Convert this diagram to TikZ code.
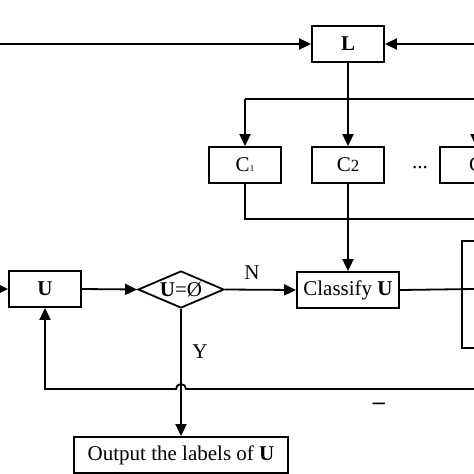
\documentclass[tikz,border=0pt]{standalone}
\usepackage{fontspec}
\setmainfont{Liberation Serif}
\usetikzlibrary{arrows.meta}
\usetikzlibrary{shapes.geometric}

\begin{document}
\begin{tikzpicture}[x=1pt,y=-1pt,line width=1.8pt,
    txt/.style={font=\fontsize{21}{24}\selectfont},
    box/.style={draw, txt, minimum width=72pt, minimum height=36pt, inner sep=0pt},
    test/.style={draw, txt, diamond, aspect=2.3, minimum width=86pt, minimum height=37pt, inner sep=0pt},
    arr/.style={-{Triangle[length=12pt,width=11pt]}}]
            % Page frame
            \clip (0,0) rectangle (474,474);

            % Define the rows and columns
            \def\rowL{44}    % row of L
            \def\rowC{165}   % row of the classifiers
            \def\rowU{289}   % row of U
            \def\rowF{389}   % feedback line
            \def\colU{45}
            \def\colT{181}
            \def\colC{348}

            % Boxes
            \node[box] (L) at (\colC,\rowL) {\textbf{L}};
            \node[box] (C1) at (245,\rowC) {C{\fontsize{9}{10}\selectfont 1}};
            \node[box] (C2) at (\colC,\rowC) {C{\fontsize{17}{18}\selectfont 2}};
            \node[box] (C3) at (476,\rowC) {C};
            \node[txt] (dots) at (420,168) {...};

            \node[box] (U) at (\colU,\rowU) {\textbf{U}};
            \node[test] (T) at (\colT,289.5) {\textbf{U}=Ø};
            \node[box, minimum width=102pt] (K) at (\colC,290) {Classify \textbf{U}};
            \node[box, minimum width=60pt, minimum height=107pt] (R) at (492,294.5) {};
            \node[box, minimum width=214pt] (O) at (\colT,455) {Output the labels of \textbf{U}};

            % Free ends
            \coordinate (inL) at (0,\rowL);
            \coordinate (inR) at (474,\rowL);
            \coordinate (inU) at (0,\rowU);
            \coordinate (topL) at (245,99);
            \coordinate (topM) at (\colC,99);
            \coordinate (topR) at (476,99);
            \coordinate (topE) at (474,99);
            \coordinate (botL) at (245,219);
            \coordinate (botM) at (\colC,219);
            \coordinate (botE) at (474,219);
            \coordinate (outK) at (474,289);
            \coordinate (fbR) at (474,\rowF);
            \coordinate (jump) at (186,\rowF);
            \coordinate (fbL) at (\colU,\rowF);

            % Draw the learner part
            \draw[arr] (inL) -- (L.west);
            \draw[arr] (inR) -- (L.east);
            \draw (L.south) -- (topM);
            \draw (topL) -- (topE);
            \draw[arr] (topL) -- (C1.north);
            \draw[arr] (topM) -- (C2.north);
            \draw[arr] (topR) -- (C3.north);
            \draw (C1.south) -- (botL) -- (botE);
            \draw[arr] (C2.south) -- (K.north);

            % Draw the loop over U
            \draw[arr] (inU) -- (U.west);
            \draw[arr] (U.east) -- (T.west);
            \draw[arr] (T.east) -- (K.west);
            \draw (K.east) -- (outK);
            \draw[arr] (T.south) -- (O.north);
            \draw[arr] (fbR) -- (jump) arc[start angle=0, end angle=-180, radius=5] -- (fbL) -- (U.south);

            % Labels
            \node[txt] (lN) at (252,273) {N};
            \node[txt] (lY) at (200,352) {Y};
            \node[txt, font=\fontsize{24}{26}\selectfont] (lM) at (379,406) {\textbf{–}};
\end{tikzpicture}
\end{document}
